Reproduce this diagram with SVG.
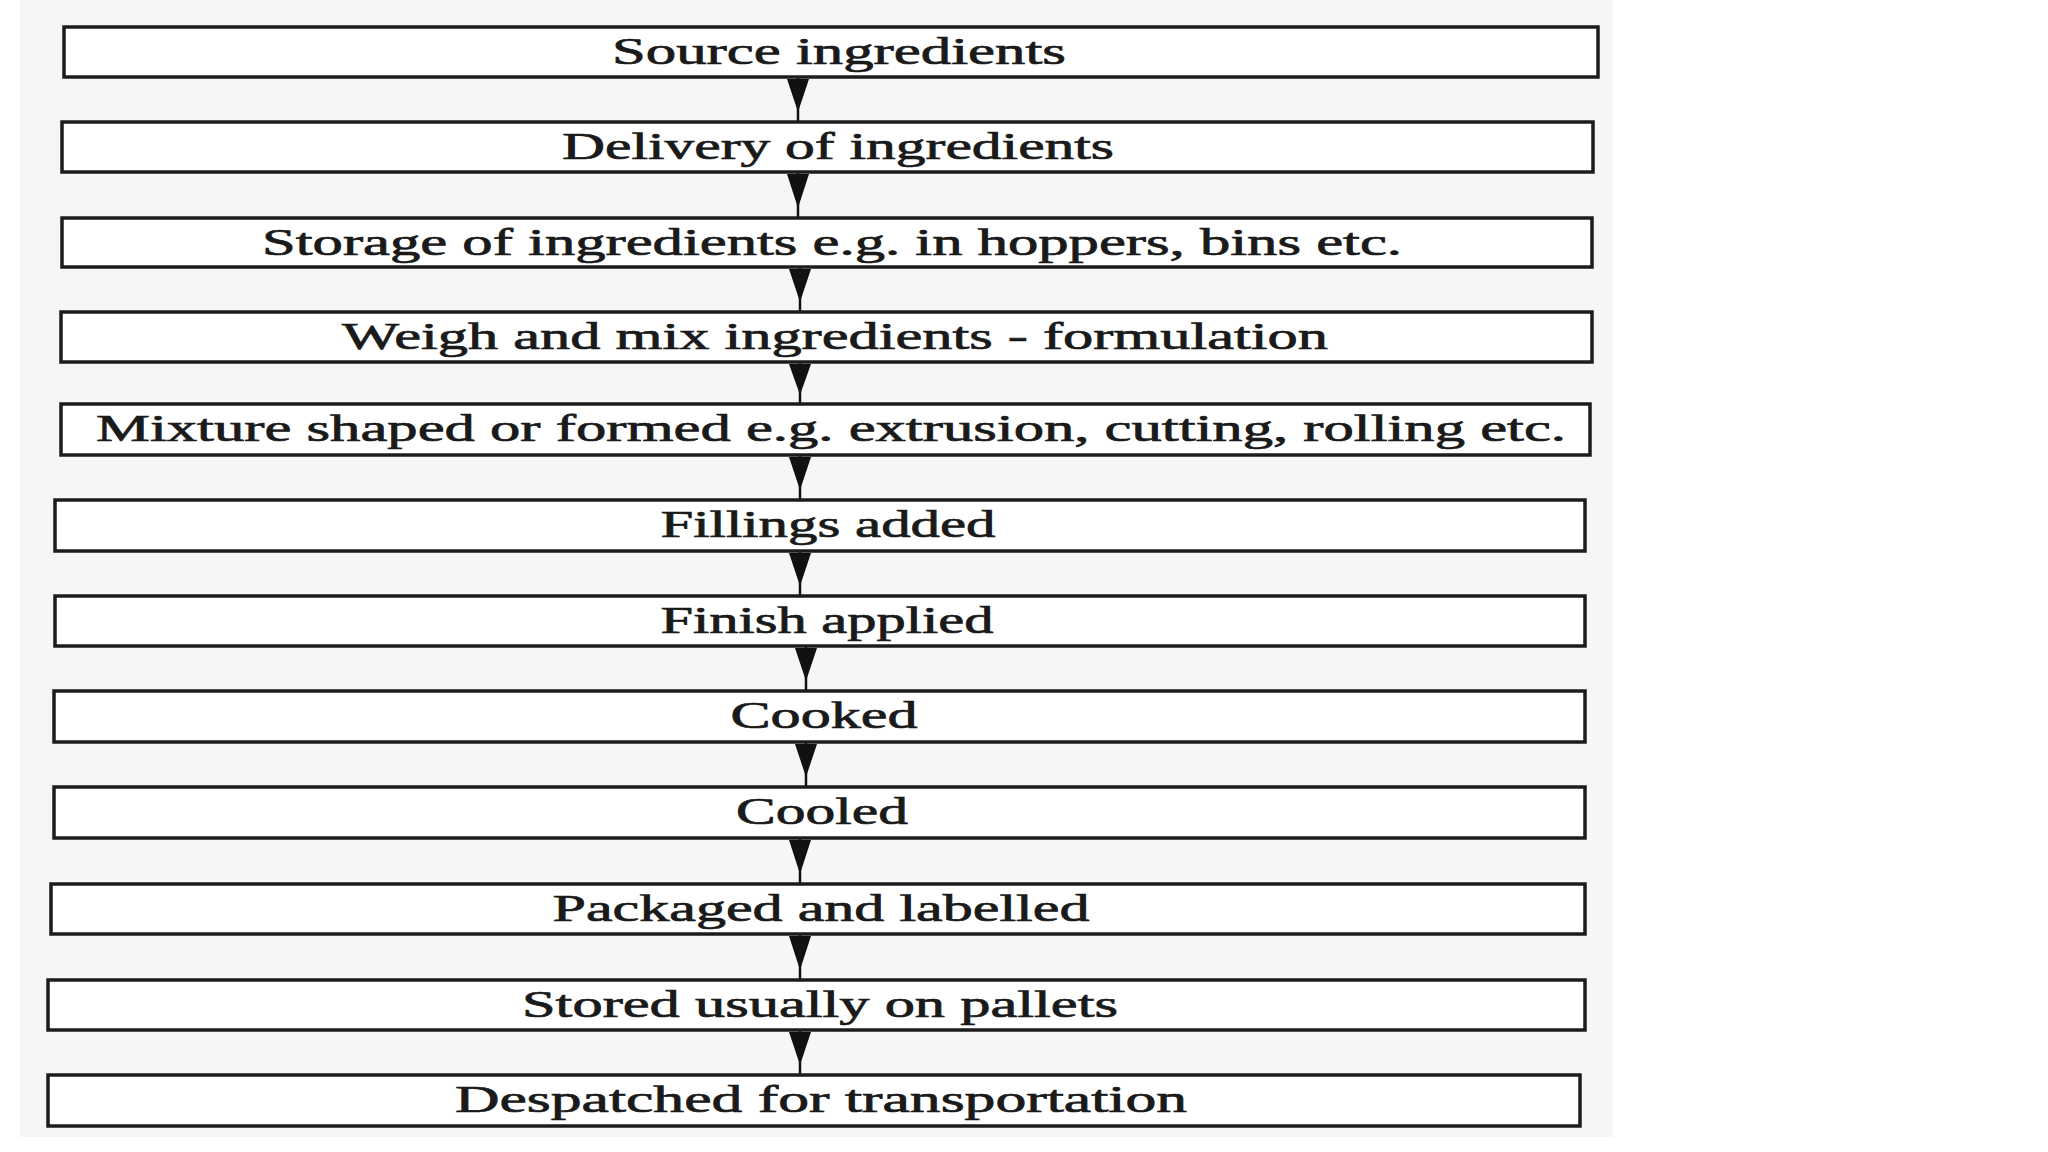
<svg xmlns="http://www.w3.org/2000/svg" width="2048" height="1152" viewBox="0 0 2048 1152">
<style>
.box{fill:#ffffff;stroke:#1c1c1c;stroke-width:3.5}
.lbl{font-family:"Liberation Serif","Times New Roman",serif;font-size:37px;fill:#1a1a1a;stroke:#1a1a1a;stroke-width:0.7;text-anchor:middle}
.ln{stroke:#111;stroke-width:2.5}
.hd{fill:#111}
</style>
<rect x="0" y="0" width="2048" height="1152" fill="#ffffff"/>
<rect x="20" y="0" width="1593" height="1137" fill="#f6f6f6"/>
<g id="connectors">
<line class="ln" x1="798" y1="77" x2="798" y2="122"/><polygon class="hd" points="787,79 809,79 798,112"/>
<line class="ln" x1="798" y1="172" x2="798" y2="218"/><polygon class="hd" points="787,174 809,174 798,208"/>
<line class="ln" x1="800" y1="267" x2="800" y2="312"/><polygon class="hd" points="789,269 811,269 800,302"/>
<line class="ln" x1="800" y1="362" x2="800" y2="404"/><polygon class="hd" points="789,364 811,364 800,395"/>
<line class="ln" x1="800" y1="455" x2="800" y2="500"/><polygon class="hd" points="789,457 811,457 800,490"/>
<line class="ln" x1="800" y1="551" x2="800" y2="596"/><polygon class="hd" points="789,553 811,553 800,586"/>
<line class="ln" x1="806" y1="646" x2="806" y2="691"/><polygon class="hd" points="795,648 817,648 806,681"/>
<line class="ln" x1="806" y1="742" x2="806" y2="787"/><polygon class="hd" points="795,744 817,744 806,777"/>
<line class="ln" x1="800" y1="838" x2="800" y2="884"/><polygon class="hd" points="789,840 811,840 800,874"/>
<line class="ln" x1="800" y1="934" x2="800" y2="980"/><polygon class="hd" points="789,936 811,936 800,970"/>
<line class="ln" x1="800" y1="1030" x2="800" y2="1075"/><polygon class="hd" points="789,1032 811,1032 800,1065"/>
</g>
<g id="n1"><rect class="box" x="64" y="27" width="1534" height="50"/><text class="lbl" x="839" y="64" textLength="454" lengthAdjust="spacingAndGlyphs">Source ingredients</text></g>
<g id="n2"><rect class="box" x="62" y="122" width="1531" height="50"/><text class="lbl" x="838" y="159" textLength="552" lengthAdjust="spacingAndGlyphs">Delivery of ingredients</text></g>
<g id="n3"><rect class="box" x="62" y="218" width="1530" height="49"/><text class="lbl" x="832" y="255" textLength="1140" lengthAdjust="spacingAndGlyphs">Storage of ingredients e.g. in hoppers, bins etc.</text></g>
<g id="n4"><rect class="box" x="61" y="312" width="1531" height="50"/><text class="lbl" x="835" y="349" textLength="986" lengthAdjust="spacingAndGlyphs">Weigh and mix ingredients - formulation</text></g>
<g id="n5"><rect class="box" x="61" y="404" width="1529" height="51"/><text class="lbl" x="831" y="441" textLength="1470" lengthAdjust="spacingAndGlyphs">Mixture shaped or formed e.g. extrusion, cutting, rolling etc.</text></g>
<g id="n6"><rect class="box" x="55" y="500" width="1530" height="51"/><text class="lbl" x="828" y="537" textLength="335" lengthAdjust="spacingAndGlyphs">Fillings added</text></g>
<g id="n7"><rect class="box" x="55" y="596" width="1530" height="50"/><text class="lbl" x="827" y="633" textLength="333" lengthAdjust="spacingAndGlyphs">Finish applied</text></g>
<g id="n8"><rect class="box" x="54" y="691" width="1531" height="51"/><text class="lbl" x="824" y="728" textLength="187" lengthAdjust="spacingAndGlyphs">Cooked</text></g>
<g id="n9"><rect class="box" x="54" y="787" width="1531" height="51"/><text class="lbl" x="822" y="824" textLength="172" lengthAdjust="spacingAndGlyphs">Cooled</text></g>
<g id="n10"><rect class="box" x="51" y="884" width="1534" height="50"/><text class="lbl" x="821" y="921" textLength="537" lengthAdjust="spacingAndGlyphs">Packaged and labelled</text></g>
<g id="n11"><rect class="box" x="48" y="980" width="1537" height="50"/><text class="lbl" x="820" y="1017" textLength="596" lengthAdjust="spacingAndGlyphs">Stored usually on pallets</text></g>
<g id="n12"><rect class="box" x="48" y="1075" width="1532" height="51"/><text class="lbl" x="821" y="1112" textLength="732" lengthAdjust="spacingAndGlyphs">Despatched for transportation</text></g>
</svg>
